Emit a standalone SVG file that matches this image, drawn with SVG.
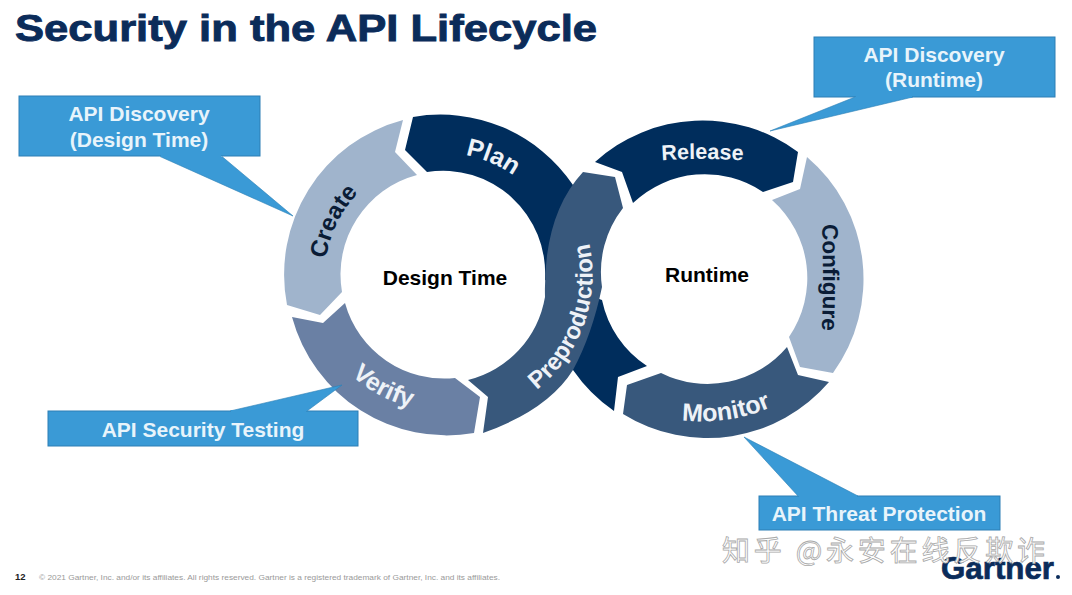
<svg xmlns="http://www.w3.org/2000/svg" width="1072" height="595" viewBox="0 0 1072 595">
<style>
text{font-family:"Liberation Sans",Arial,sans-serif;font-weight:700}
.call{fill:#3a9ad6;stroke:#2c7fb5;stroke-width:1}
.ptr{fill:#3a9ad6;stroke:#2c7fb5;stroke-width:.6}
.ct{fill:#e8f4fb;font-size:21px;text-anchor:middle}
.seg{font-size:24px;text-anchor:middle}
.w{fill:#eef2f7}
.k{fill:#0a1c36}
.c{font-size:21px;fill:#000;text-anchor:middle}
</style>
<defs>
<path id="pCreate" d="M335.2,323 A118,118 0 0 1 414.5,160.5"/>
<path id="pPlan" d="M387.6,166.3 A122,122 0 0 1 559.7,239.3"/>
<path id="pVerify" d="M310,303.3 A136,136 0 0 0 494,401"/>
<path id="pPre" d="M494,413 A146,146 0 0 0 570.7,198"/>
<path id="pRelease" d="M620,165 Q700,153 785,165"/>
<path id="pConfigure" d="M820,190 Q826,277 820,365"/>
<path id="pMonitor" d="M650,414 Q730,436 800,392"/>
</defs>
<rect width="1072" height="595" fill="#fff"/>
<text x="15" y="41" font-size="37" fill="#0b2c5a" stroke="#0b2c5a" stroke-width=".9" textLength="582" lengthAdjust="spacingAndGlyphs">Security in the API Lifecycle</text>

<g id="node-create">
<path fill="#a0b4cc" d="M403,120 L395,152 L417,175 A103,103 0 0 0 342,292 L320,315 L287,305 A160,160 0 0 1 403,120Z"/>
<text class="seg k"><textPath href="#pCreate" startOffset="50%">Create</textPath></text>
</g>
<g id="node-plan">
<path fill="#002d5c" d="M413,117 A160,160 0 0 1 573,185 L573,370 A160,160 0 0 0 614,411 L618,377 L647,366 A104,104 0 0 1 602,300 L545,280 A102,103 0 0 0 427,172 L405,150Z"/>
<text class="seg w" style="font-size:25px"><textPath href="#pPlan" startOffset="50%">Plan</textPath></text>
</g>
<g id="node-verify">
<path fill="#6a80a4" d="M292,317 L323,323 L345,303 A103,103 0 0 0 455,378 L480,397 L474,433 A160,160 0 0 1 292,317Z"/>
<text class="seg w" style="font-size:25px"><textPath href="#pVerify" startOffset="50%">Verify</textPath></text>
</g>
<g id="node-preproduction">
<path fill="#38587c" d="M583,172 L615,177 L623,208 A104,104 0 0 0 602,287 Q592,335 573,370 Q548,410 483,433 L488,397 L468,380 A103,103 0 0 0 545,297 Q543,215 583,172Z"/>
<text class="seg w" style="font-size:24px"><textPath href="#pPre" startOffset="50%">Preproduction</textPath></text>
</g>
<g id="node-release">
<path fill="#002d5c" d="M595,162 A160,160 0 0 1 798,152 L793,182 L763,192 A104,104 0 0 0 633,203 L622,172Z"/>
<text class="seg w" style="font-size:21.5px"><textPath href="#pRelease" startOffset="50%">Release</textPath></text>
</g>
<g id="node-configure">
<path fill="#a0b4cc" d="M807,157 A160,160 0 0 1 833,373 L800,367 L789,337 A104,104 0 0 0 772,200 L800,189Z"/>
<text class="seg k" style="font-size:22.5px"><textPath href="#pConfigure" startOffset="50%">Configure</textPath></text>
</g>
<g id="node-monitor">
<path fill="#38587c" d="M829,382 A160,160 0 0 1 623,414 L627,385 L661,373 A104,104 0 0 0 787,347 L798,375Z"/>
<text class="seg w" style="font-size:25px"><textPath href="#pMonitor" startOffset="50%">Monitor</textPath></text>
</g>
<g id="node-design-time"><text class="c" x="445" y="285">Design Time</text></g>
<g id="node-runtime"><text class="c" x="707" y="282">Runtime</text></g>

<g id="callout-discovery-design">
<rect class="call" x="19" y="96" width="241" height="60"/>
<text class="ct" x="139" y="121">API Discovery</text>
<text class="ct" x="139" y="147">(Design Time)</text>
</g>
<g id="callout-discovery-runtime">
<rect class="call" x="814" y="37" width="241" height="60"/>
<text class="ct" x="934" y="62">API Discovery</text>
<text class="ct" x="934" y="87">(Runtime)</text>
</g>
<g id="callout-testing">
<rect class="call" x="48" y="411" width="310" height="35"/>
<text class="ct" x="203" y="437">API Security Testing</text>
</g>
<g id="callout-threat">
<rect class="call" x="759" y="496" width="241" height="34"/>
<text class="ct" x="879" y="521">API Threat Protection</text>
</g>
<g id="connectors">
<path class="ptr" d="M160,156.5 L293,216 L222,156.5"/>
<path class="ptr" d="M855,97 L770,131 L913,97"/>
<path class="ptr" d="M230,411 L342,385 L307,411"/>
<path class="ptr" d="M798,496 L744,437 L858,496"/>
<path fill="#3a9ad6" d="M161,155 H221 V157 H161Z M856,96 H912 V98 H856Z M231,410 H306 V412 H231Z M799,495 H857 V497 H799Z"/>
</g>

<text x="15" y="580" font-size="9.5" fill="#222">12</text>
<text x="39" y="580" font-size="7" fill="#9a9a9a" style="font-weight:400" textLength="461" lengthAdjust="spacingAndGlyphs">© 2021 Gartner, Inc. and/or its affiliates. All rights reserved. Gartner is a registered trademark of Gartner, Inc. and its affiliates.</text>
<text x="941" y="579" font-size="31" fill="#0b2c5a" stroke="#0b2c5a" stroke-width=".7" textLength="113" lengthAdjust="spacingAndGlyphs">Gartner</text>
<circle cx="1058" cy="577" r="2" fill="#0b2c5a"/>
<text x="722" y="561" font-size="28" fill="#fff" stroke="#a9a9a9" stroke-width=".8" textLength="323" style="font-family:'Noto Sans CJK SC','Liberation Sans',sans-serif;font-weight:400">知乎 @永安在线反欺诈</text>
</svg>
